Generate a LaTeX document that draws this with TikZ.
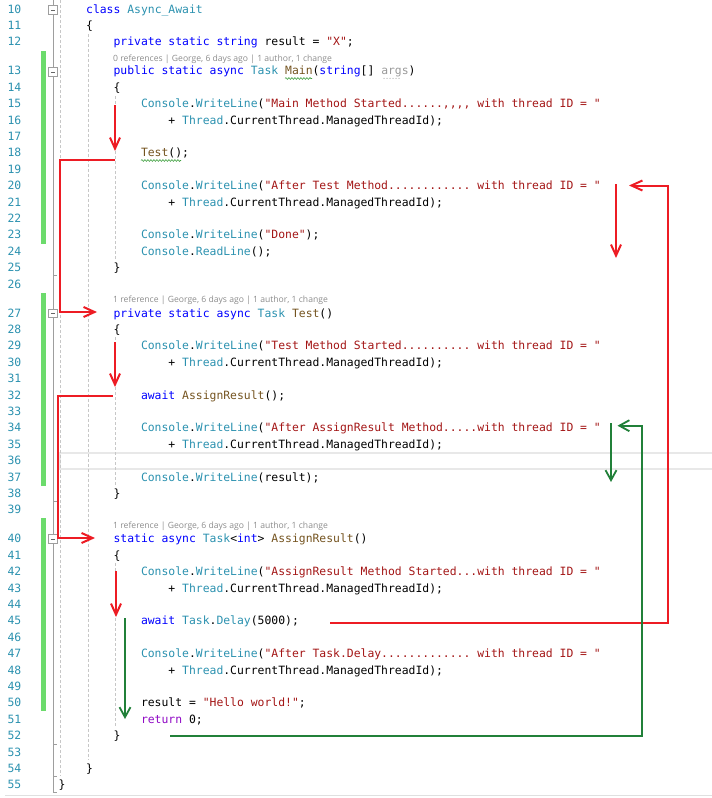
\documentclass[tikz,border=0pt]{standalone}
\usepackage{fontspec}
\setmonofont{DejaVu Sans Mono}
\newfontfamily\lensfont{Open Sans}
\usetikzlibrary{arrows.meta,decorations.pathmorphing}

\definecolor{ckwc}{HTML}{0000FF}
\definecolor{ctyc}{HTML}{2B91AF}
\definecolor{cstrc}{HTML}{A31515}
\definecolor{cmec}{HTML}{74531F}
\definecolor{cpuc}{HTML}{8F08C4}
\definecolor{arrowred}{RGB}{237,28,36}
\definecolor{arrowgreen}{RGB}{33,128,57}
\definecolor{changebar}{HTML}{6CDB6C}
\definecolor{squiggle}{HTML}{3FA03F}

\newcommand{\ckw}[1]{\textcolor{ckwc}{#1}}
\newcommand{\cty}[1]{\textcolor{ctyc}{#1}}
\newcommand{\cstr}[1]{\textcolor{cstrc}{#1}}
\newcommand{\cme}[1]{\textcolor{cmec}{#1}}
\newcommand{\cpu}[1]{\textcolor{cpuc}{#1}}

% code line: column, line number, text
\newcommand{\codeln}[3]{%
  \pgfmathsetmacro\cy{13+(#2-10)*16.4+12.6*((#2>12)+(#2>26)+(#2>39))}%
  \node[code] (c#2) at ({58.5+#1*6.86},\cy) {#3};}

\tikzset{
  code/.style={anchor=base west,inner sep=0pt,font=\ttfamily\fontsize{11.4}{13}\selectfont},
  lnum/.style={anchor=base east,inner sep=0pt,text=ctyc,font=\ttfamily\fontsize{11.4}{13}\selectfont},
  lens/.style={anchor=base west,inner sep=0pt,text=black!45,font=\lensfont\fontsize{8.6}{10}\selectfont},
  guide/.style={draw=black!22,dash pattern=on 3pt off 2pt,line width=0.8pt},
  redarrow/.style={draw=arrowred,line width=2pt,-{Straight Barb[length=11pt,width=10pt]}},
  greenarrow/.style={draw=arrowgreen,line width=1.8pt,-{Straight Barb[length=10pt,width=11pt]}}
}

\begin{document}
\begin{tikzpicture}[x=1pt,y=-1pt]
\useasboundingbox (0,0) rectangle (712,798);

% current line and bottom edge
\draw[draw=black!9,line width=1.5pt] (60,453) rectangle (714,469);
\draw[black!12,line width=1pt] (5,795) -- (712,795);

% change bars
\fill[changebar] (41,51) rectangle (45.7,244);
\fill[changebar] (41,293) rectangle (45.7,486);
\fill[changebar] (41,518) rectangle (45.7,711);

% outlining margin
\draw[black!38,line width=0.8pt] (53,0) -- (53,792);
\foreach \t in {275,501,744,776,792}
  \draw[black!38,line width=0.8pt] (53,\t) -- (57,\t);
\foreach \b in {10,72,313.5,539} {
  \draw[black!38,fill=white,line width=0.8pt] (48.7,\b-4.3) rectangle (57.3,\b+4.3);
  \draw[black!60,line width=0.8pt] (50.8,\b) -- (55.2,\b);
}

% indent guides
\draw[guide] (60.5,0) -- (60.5,776);
\draw[guide] (88.5,34) -- (88.5,760);
\draw[guide] (115.5,96) -- (115.5,260);
\draw[guide] (115.5,337) -- (115.5,486);
\draw[guide] (115.5,563) -- (115.5,726);

% line numbers
\foreach \n in {10,...,55} {
  \pgfmathsetmacro\yy{13+(\n-10)*16.4+12.6*((\n>12)+(\n>26)+(\n>39))}
  \node[lnum] (n\n) at (21.5,\yy) {\n};
}

% code
\codeln{4}{10}{\ckw{class} \cty{Async\_Await}}
\codeln{4}{11}{\{}
\codeln{8}{12}{\ckw{private static string} result = \cstr{"X"};}
\node[lens] (r13) at (113,61) {0 references | George, 6 days ago | 1 author, 1 change};
\codeln{8}{13}{\ckw{public static async} \cty{Task} \cme{Main}(\ckw{string}[] \textcolor{black!40}{args})}
\codeln{8}{14}{\{}
\codeln{12}{15}{\cty{Console}.\cty{WriteLine}(\cstr{"Main Method Started......,,,, with thread ID = "}}
\codeln{16}{16}{+ \cty{Thread}.CurrentThread.ManagedThreadId);}
\codeln{12}{18}{\cme{Test}();}
\codeln{12}{20}{\cty{Console}.\cty{WriteLine}(\cstr{"After Test Method............ with thread ID = "}}
\codeln{16}{21}{+ \cty{Thread}.CurrentThread.ManagedThreadId);}
\codeln{12}{23}{\cty{Console}.\cty{WriteLine}(\cstr{"Done"});}
\codeln{12}{24}{\cty{Console}.\cty{ReadLine}();}
\codeln{8}{25}{\}}
\node[lens] (r27) at (113,302.5) {1 reference | George, 6 days ago | 1 author, 1 change};
\codeln{8}{27}{\ckw{private static async} \cty{Task} \cme{Test}()}
\codeln{8}{28}{\{}
\codeln{12}{29}{\cty{Console}.\cty{WriteLine}(\cstr{"Test Method Started.......... with thread ID = "}}
\codeln{16}{30}{+ \cty{Thread}.CurrentThread.ManagedThreadId);}
\codeln{12}{32}{\ckw{await} \cme{AssignResult}();}
\codeln{12}{34}{\cty{Console}.\cty{WriteLine}(\cstr{"After AssignResult Method.....with thread ID = "}}
\codeln{16}{35}{+ \cty{Thread}.CurrentThread.ManagedThreadId);}
\codeln{12}{37}{\cty{Console}.\cty{WriteLine}(result);}
\codeln{8}{38}{\}}
\node[lens] (r40) at (113,528.5) {1 reference | George, 6 days ago | 1 author, 1 change};
\codeln{8}{40}{\ckw{static async} \cty{Task}<\ckw{int}> \cme{AssignResult}()}
\codeln{8}{41}{\{}
\codeln{12}{42}{\cty{Console}.\cty{WriteLine}(\cstr{"AssignResult Method Started...with thread ID = "}}
\codeln{16}{43}{+ \cty{Thread}.CurrentThread.ManagedThreadId);}
\codeln{12}{45}{\ckw{await} \cty{Task}.\cty{Delay}(5000);}
\codeln{12}{47}{\cty{Console}.\cty{WriteLine}(\cstr{"After Task.Delay............. with thread ID = "}}
\codeln{16}{48}{+ \cty{Thread}.CurrentThread.ManagedThreadId);}
\codeln{12}{50}{result = \cstr{"Hello world!"};}
\codeln{12}{51}{\cpu{return} 0;}
\codeln{8}{52}{\}}
\codeln{4}{54}{\}}
\codeln{0}{55}{\}}

% squiggles
\draw[squiggle,line width=0.6pt,decorate,decoration={snake,amplitude=0.9pt,segment length=3pt}] (285,78.5) -- (312,78.5);
\draw[squiggle,line width=0.6pt,decorate,decoration={snake,amplitude=0.9pt,segment length=3pt}] (141,160.5) -- (181,160.5);
\foreach \i in {0,...,5}
  \fill[black!40] (384+\i*3,78.3) circle (0.55);

% points of the flow
\coordinate (mainA) at (115,105);   \coordinate (mainB) at (115,151);
\coordinate (callTest) at (115,160); \coordinate (inTest) at (97,312);
\coordinate (testA) at (115,342);   \coordinate (testB) at (115,387);
\coordinate (callAssign) at (113,395.5); \coordinate (inAssign) at (95,538);
\coordinate (assignA) at (116,571); \coordinate (assignB) at (116,617);
\coordinate (delay) at (330,622.5); \coordinate (backMain) at (629,185.5);
\coordinate (afterA) at (616,184);  \coordinate (afterB) at (616,258);
\coordinate (contA) at (125,618);   \coordinate (contB) at (125,719);
\coordinate (retAssign) at (170,736); \coordinate (backTest) at (617.5,425.7);
\coordinate (resA) at (611,423);    \coordinate (resB) at (611,482);

% red: first thread
\draw[redarrow] (mainA) -- (mainB);
\draw[redarrow] (callTest) -- (60,160) |- (inTest);
\draw[redarrow] (testA) -- (testB);
\draw[redarrow] (callAssign) -- (58.3,395.5) |- (inAssign);
\draw[redarrow] (assignA) -- (assignB);
\draw[redarrow] (delay) -- (668,622.5) |- (backMain);
\draw[redarrow] (afterA) -- (afterB);

% green: after the delay
\draw[greenarrow] (contA) -- (contB);
\draw[greenarrow] (retAssign) -- (642,736) |- (backTest);
\draw[greenarrow] (resA) -- (resB);

\end{tikzpicture}
\end{document}
